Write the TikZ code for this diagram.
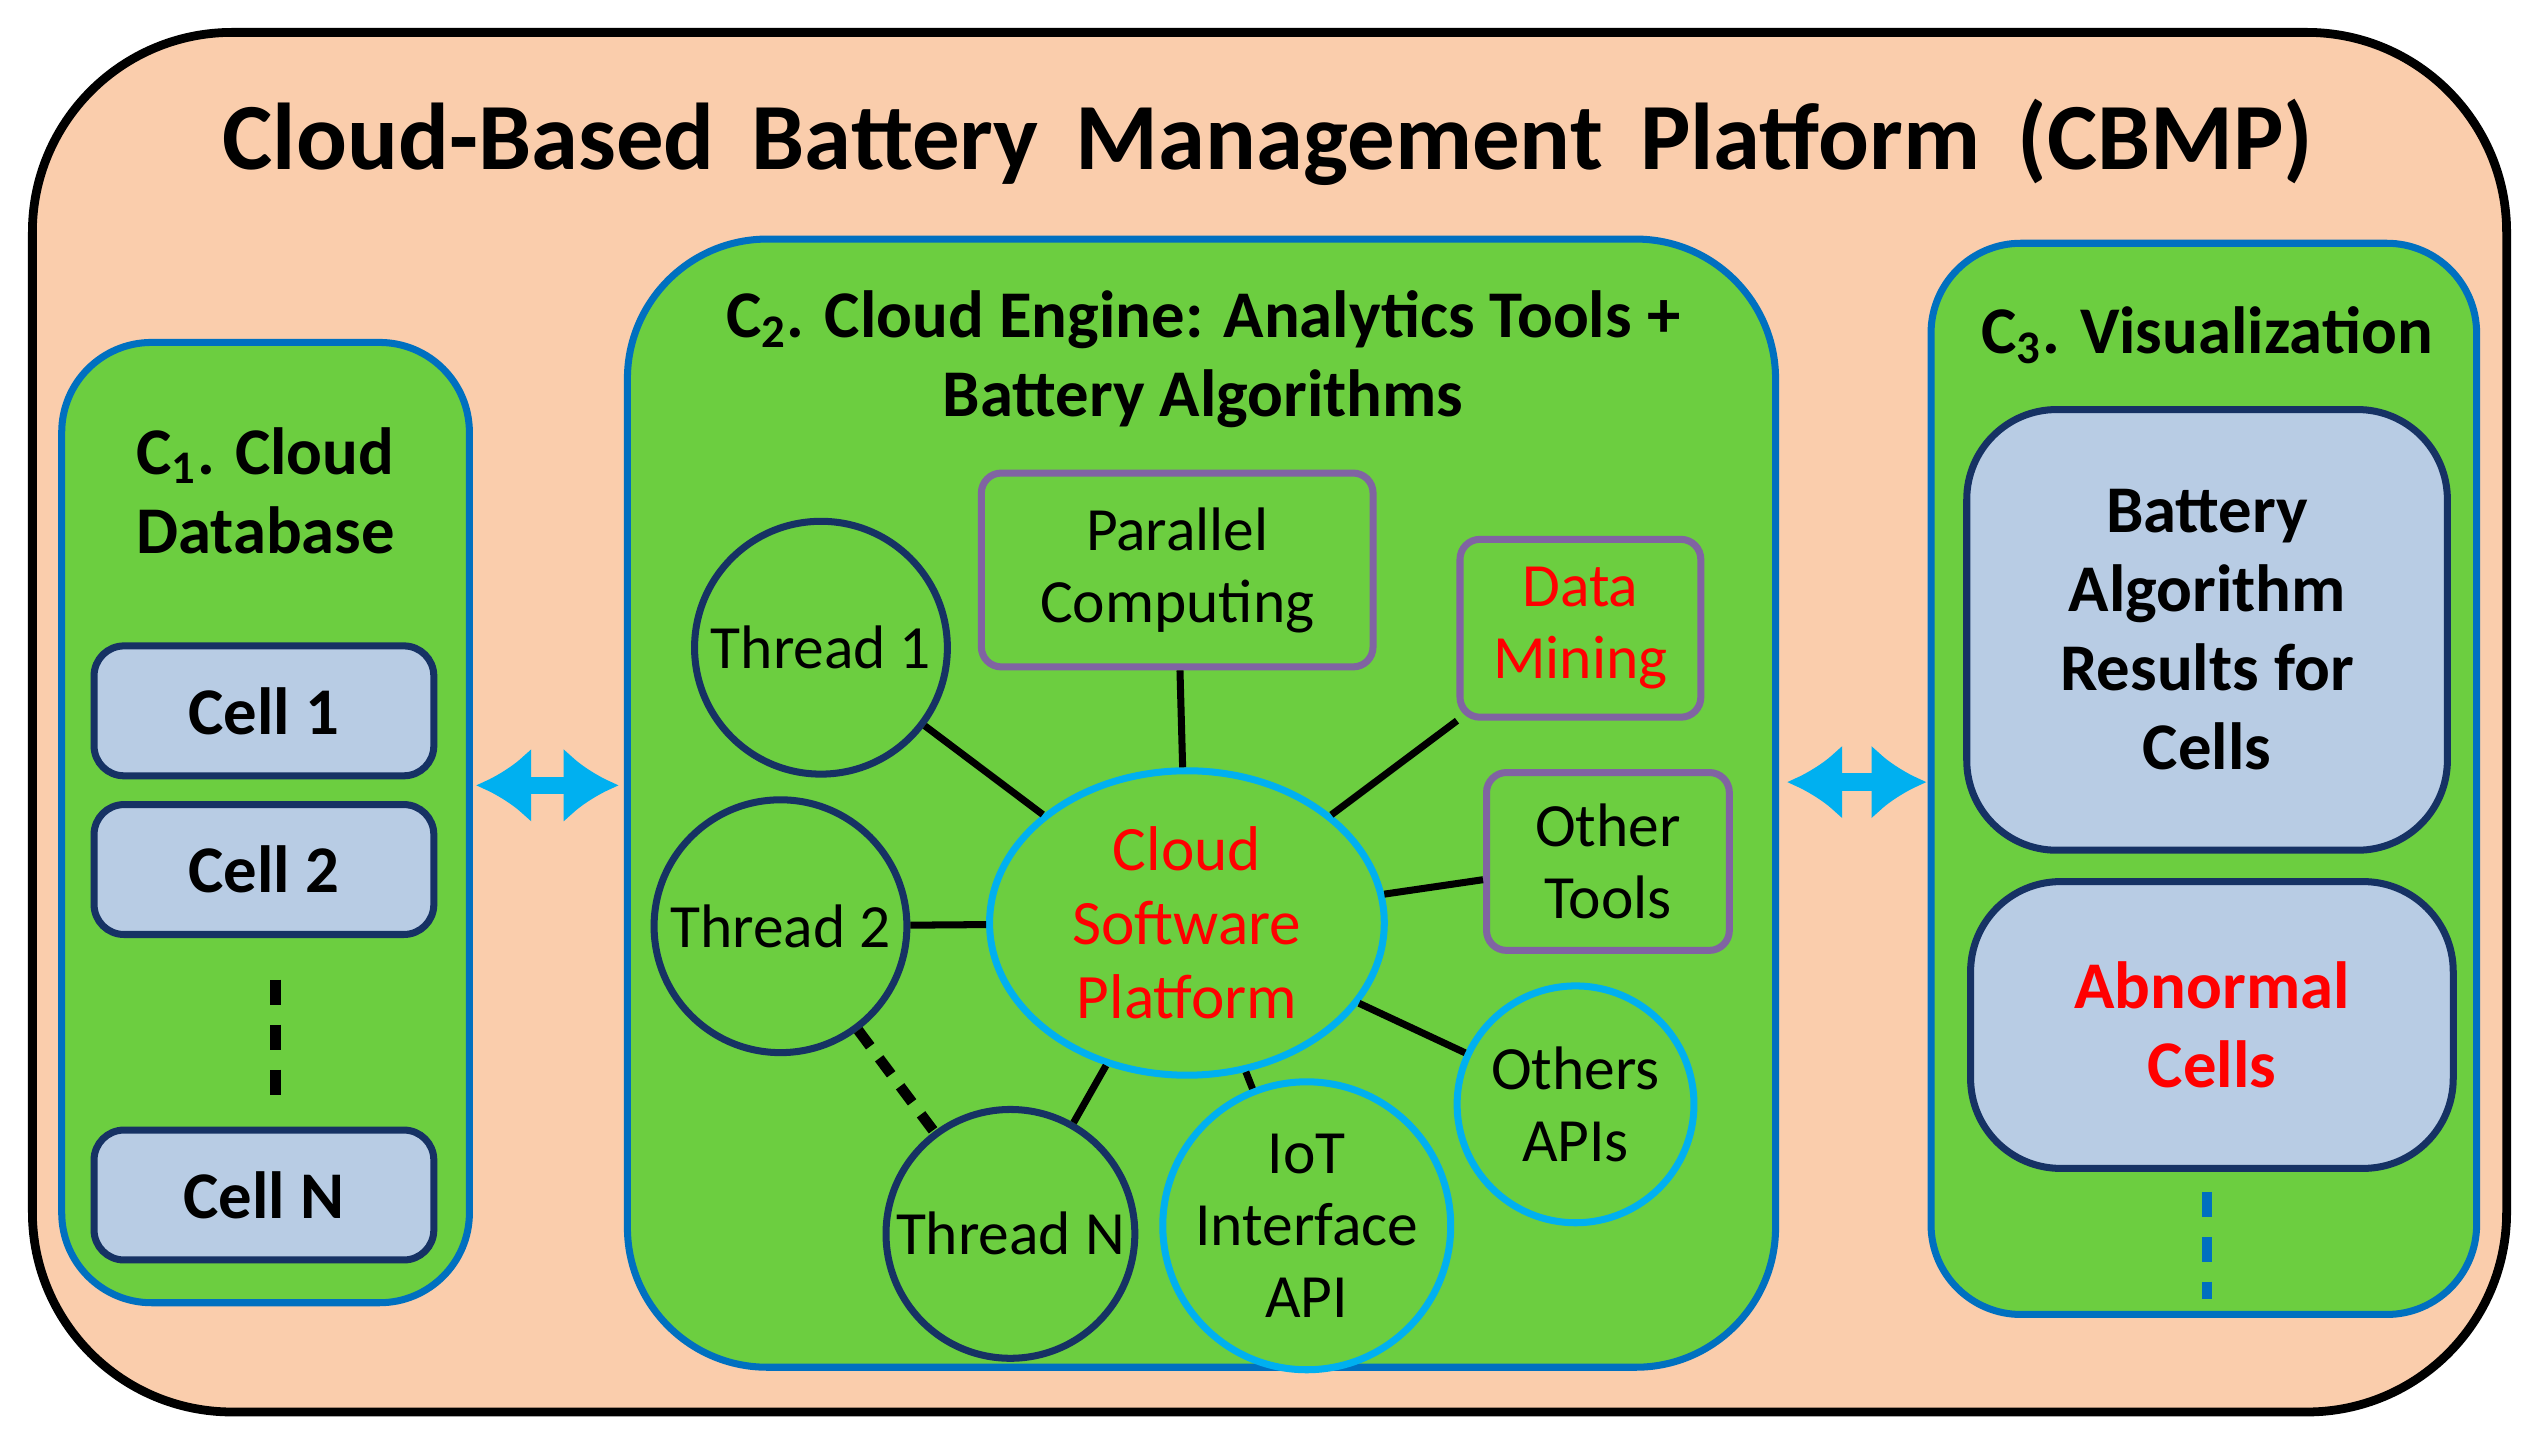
\documentclass[tikz,border=0pt]{standalone}
\usepackage{fontspec}
\setmainfont{Carlito}
\usetikzlibrary{shapes.geometric,arrows.meta}
\definecolor{peach}{RGB}{250,205,172}
\definecolor{grn}{RGB}{108,206,64}
\definecolor{bord}{RGB}{0,112,192}
\definecolor{cyn}{RGB}{0,176,240}
\definecolor{cellblue}{RGB}{184,204,228}
\definecolor{navy}{RGB}{22,50,100}
\definecolor{purp}{RGB}{128,100,162}
\begin{document}
\begin{tikzpicture}[x=0.0162cm,y=-0.0162cm]
	
	\tikzstyle{panel}=[rectangle, rounded corners=0.9cm, draw=bord, fill=grn, line width=2pt]
	\tikzstyle{mycell}=[rectangle, rounded corners=0.3cm, draw=navy, fill=cellblue, line width=2pt,
	minimum width=3.4cm, minimum height=1.3cm, font=\fontsize{19}{22}\selectfont\bfseries]
	\tikzstyle{vbox}=[rectangle, rounded corners=0.9cm, draw=navy, fill=cellblue, line width=2pt,
	align=center, font=\fontsize{19}{22.5}\selectfont\bfseries]
	\tikzstyle{thread}=[circle, draw=navy, fill=grn, line width=2pt, inner sep=0pt,
	minimum size=2.53cm, font=\fontsize{17.5}{20}\selectfont]
	\tikzstyle{api}=[circle, draw=cyn, fill=grn, line width=2pt, inner sep=0pt, align=center,
	font=\fontsize{17.5}{20.5}\selectfont]
	\tikzstyle{tool}=[rectangle, rounded corners=0.2cm, draw=purp, fill=grn, line width=2pt,
	align=center, font=\fontsize{17.5}{20.5}\selectfont]
	\tikzstyle{myline}=[-, line width=2pt]
	\tikzstyle{myarrow}=[{Latex[length=0.55cm,width=0.75cm]}-{Latex[length=0.55cm,width=0.75cm]}, cyn, line width=5pt]
	\tikzstyle{mydots}=[line width=3pt, dash pattern=on 0.25cm off 0.2cm]
	
	\useasboundingbox (0,0) rectangle (1568,887);
	
	% outer frame
	\draw[fill=peach, line width=2.5pt, rounded corners=2cm] (20,20) rectangle (1548,872);
	\node[font=\fontsize{27}{31}\selectfont\bfseries] (title) at (783,88) {Cloud-Based\, Battery\, Management\, Platform\, (CBMP)};
	
	% panels
	\node[panel, minimum width=4.08cm, minimum height=9.61cm] (c1) at (164,508) {};
	\node[panel, minimum width=11.49cm, minimum height=11.29cm, rounded corners=1.4cm] (c2) at (742,496) {};
	\node[panel, minimum width=5.46cm, minimum height=10.72cm] (c3) at (1361,481) {};
	
	% C1
	\node[align=center, font=\fontsize{19}{22.5}\selectfont\bfseries] (t1) at (164,303) {C\textsubscript{1}. Cloud\\Database};
	\node[mycell] (cell1) at (163,439) {Cell 1};
	\node[mycell] (cell2) at (163,537) {Cell 2};
	\node[mycell] (celln) at (163,738) {Cell N};
	\coordinate (d1) at (170,605);
	\coordinate (d2) at (170,678);
	\draw[mydots] (d1) -- (d2);
	
	% C2
	\node[align=center, font=\fontsize{19}{22.5}\selectfont\bfseries] (t2) at (743,222) {C\textsubscript{2}. Cloud Engine: Analytics Tools +\\Battery Algorithms};
	\node[ellipse, draw=cyn, fill=grn, line width=2pt, minimum width=3.95cm, minimum height=2.66cm,
	align=center, text=red, font=\fontsize{18}{21}\selectfont] (csp) at (733,570) {Cloud\\Software\\Platform};
	\node[thread] (th1) at (507,400) {Thread 1};
	\node[thread] (th2) at (482,572) {Thread 2};
	\node[thread, minimum size=2.49cm] (thn) at (624,762) {Thread N};
	\node[tool, minimum width=3.92cm, minimum height=1.94cm] (par) at (727,352) {Parallel\\Computing};
	\node[tool, minimum width=2.41cm, minimum height=1.78cm, text=red] (dm) at (976,388) {Data\\Mining};
	\node[tool, minimum width=2.43cm, minimum height=1.78cm] (ot) at (993,532) {Other\\Tools};
	\node[api, minimum size=2.37cm] (oapi) at (973,682) {Others\\APIs};
	\node[api, minimum size=2.69cm] (iot) at (807,757) {IoT\\Interface\\API};
	
	\draw[myline] (th1) -- (csp);
	\draw[myline] (th2) -- (csp);
	\draw[myline] (thn) -- (csp);
	\draw[myline] (par) -- (csp);
	\draw[myline] (dm) -- (csp);
	\draw[myline] (ot) -- (csp);
	\draw[myline] (oapi) -- (csp);
	\draw[myline] (iot) -- (csp);
	\draw[mydots, dash pattern=on 0.2cm off 0.15cm] (th2) -- (thn);
	
	% C3
	\node[font=\fontsize{19}{22.5}\selectfont\bfseries] (t3) at (1363,207) {C\textsubscript{3}. Visualization};
	\node[vbox, minimum width=4.81cm, minimum height=4.41cm] (res) at (1363,389) {Battery\\Algorithm\\Results for\\Cells};
	\node[vbox, minimum width=4.83cm, minimum height=2.87cm, text=red] (abn) at (1366,633) {Abnormal\\Cells};
	\coordinate (d3) at (1363,736);
	\coordinate (d4) at (1363,802);
	\draw[mydots, bord] (d3) -- (d4);
	
	% arrows
	\draw[myarrow] (c1.east) ++(2,-23) coordinate (a1) -- ++(88,0) coordinate (a2);
	\draw[myarrow] (c2.east) ++(5,-13) coordinate (a3) -- ++(86,0) coordinate (a4);
	
\end{tikzpicture}
\end{document}
